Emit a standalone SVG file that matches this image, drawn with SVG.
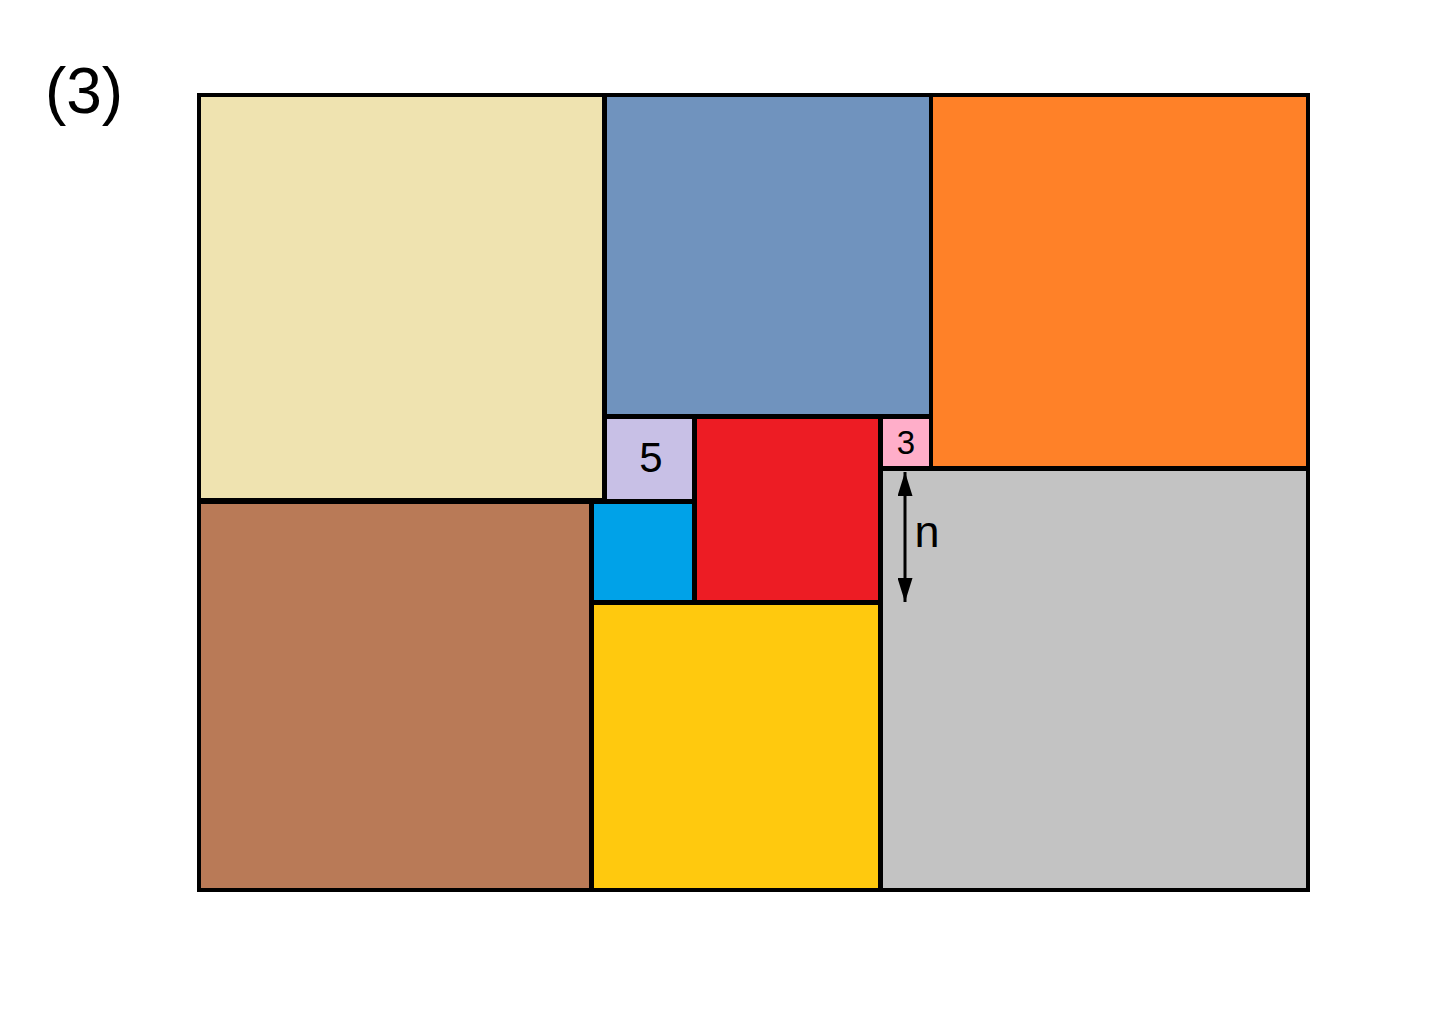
<svg xmlns="http://www.w3.org/2000/svg" width="1452" height="1014" viewBox="0 0 1452 1014">
<style>
rect{stroke:#000;stroke-width:4;stroke-linejoin:miter}
text{font-family:"Liberation Sans",Arial,sans-serif;fill:#000}
</style>
<defs>
<marker id="ah" viewBox="0 0 16 10" refX="16" refY="5" markerWidth="8" markerHeight="5" markerUnits="strokeWidth" orient="auto-start-reverse">
<path d="M0,0 L16,5 L0,10 Z" fill="#000"/>
</marker>
</defs>
<rect width="1452" height="1014" fill="#fff" style="stroke:none"/>
<text x="84" y="113" font-size="64" text-anchor="middle">(3)</text>
<g id="beige"><rect x="199" y="95" width="405" height="405" fill="#EFE3B0"/></g>
<g id="blue"><rect x="605" y="95" width="326" height="321" fill="#7093BE"/></g>
<g id="orange"><rect x="931" y="95" width="377" height="373" fill="#FF8128"/></g>
<g id="lavender"><rect x="605" y="417" width="89" height="84" fill="#C8C0E6"/><text x="651" y="472" font-size="42" text-anchor="middle">5</text></g>
<g id="red"><rect x="695" y="417" width="185" height="185" fill="#ED1C24"/></g>
<g id="pink"><rect x="881" y="417" width="50" height="51" fill="#FFAEC9"/><text x="906" y="454" font-size="33" text-anchor="middle">3</text></g>
<g id="grey"><rect x="881" y="469" width="427" height="421" fill="#C3C3C3"/></g>
<g id="brown"><rect x="199" y="502" width="392" height="388" fill="#B97A57"/></g>
<g id="cyan"><rect x="592" y="502" width="102" height="100" fill="#00A2E8"/></g>
<g id="yellow"><rect x="592" y="603" width="288" height="287" fill="#FFC90E"/></g>
<g id="connectors">
<line x1="905" y1="472" x2="905" y2="602" stroke="#000" stroke-width="3" marker-start="url(#ah)" marker-end="url(#ah)"/>
</g>
<text x="927" y="547" font-size="45" text-anchor="middle">n</text>
</svg>
